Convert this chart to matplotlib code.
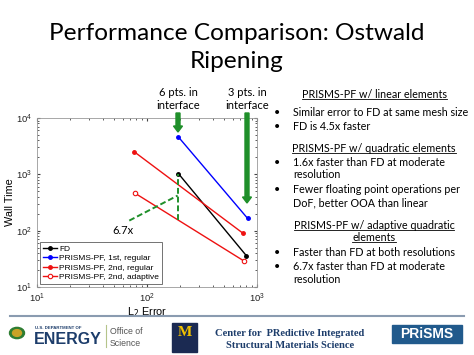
import matplotlib
matplotlib.use("Agg")
import matplotlib.pyplot as plt
from matplotlib.patches import Rectangle, Circle, FancyArrow
from matplotlib.lines import Line2D

W, H = 474, 355

# ---- data ----
series_names = ["FD", "PRISMS-PF, 1st, regular", "PRISMS-PF, 2nd, regular", "PRISMS-PF, 2nd, adaptive"]
fd_err = [193, 800]
fd_time = [1030, 36]
lin_err = [193, 822]
lin_time = [4600, 165]
quad_err = [76, 740]
quad_time = [2540, 91]
adapt_err = [77, 760]
adapt_time = [468, 29]
gap_x = [193, 193]
gap_y = [153, 1030]
pointer_x = [69, 190]
pointer_y = [151, 420]
speedup_label = "6.7x"

title_lines = ["Performance Comparison: Ostwald", "Ripening"]

fig = plt.figure(figsize=(W / 100, H / 100), dpi=100)
fig.patch.set_facecolor("white")


def fx(x):
    return x / W


def fy(y):
    return 1 - y / H


# ---- title ----
fig.text(fx(237), fy(33), title_lines[0], ha="center", va="center", fontsize=17.6, family="Lato")
fig.text(fx(237), fy(62), title_lines[1], ha="center", va="center", fontsize=17.6, family="Lato")

# ---- axes ----
ax = fig.add_axes([fx(37), fy(287), (257 - 37) / W, (287 - 118) / H])
green = "#1f8f2a"
ax.plot(fd_err, fd_time, "-o", color="black", ms=2.5, lw=1, label=series_names[0])
ax.plot(lin_err, lin_time, "-o", color="#0000ff", ms=2.5, lw=1, label=series_names[1])
ax.plot(quad_err, quad_time, "-o", color="#ee1111", ms=2.5, lw=1, label=series_names[2])
ax.plot(adapt_err, adapt_time, "-o", color="#ee1111", ms=3.2, lw=1, mfc="white", mew=0.8,
        label=series_names[3])
ax.plot(gap_x, gap_y, "--", color=green, lw=1.4, dashes=(3, 1.5))
ax.plot(pointer_x, pointer_y, "--", color=green, lw=1.4, dashes=(3, 1.5))
ax.text(60, 100, speedup_label, ha="center", va="center", fontsize=8, family="Lato")

ax.set_xscale("log")
ax.set_yscale("log")
ax.set_xlim(10, 1000)
ax.set_ylim(10, 10000)
for s in ax.spines.values():
    s.set_color("#999999")
    s.set_linewidth(0.6)
ax.tick_params(which="both", direction="in", labelsize=6.8, colors="#444444", labelcolor="#222222",
               top=True, right=True, length=2)
ax.tick_params(which="minor", length=1.2)
ax.set_ylabel("Wall Time", fontsize=7.8, labelpad=1, family="Liberation Sans")
ax.set_xlabel("L$_2$ Error", fontsize=7.8, labelpad=0, family="Liberation Sans")
for lab in ax.get_xticklabels() + ax.get_yticklabels():
    lab.set_family("Liberation Sans")
leg = ax.legend(loc="lower left", frameon=True, fancybox=False, handlelength=1.7,
                borderpad=0.35, labelspacing=0.2, handletextpad=0.3, borderaxespad=0.35,
                prop={"family": "Liberation Sans", "size": 6.0})
leg.get_frame().set_edgecolor("#333333")
leg.get_frame().set_linewidth(0.6)

# ---- interface arrows ----
for xc, label, ytip in [(178, "6 pts. in\ninterface", 132), (247, "3 pts. in\ninterface", 203)]:
    fig.text(fx(xc), fy(99), label, ha="center", va="center", fontsize=8, family="Lato",
             linespacing=1.25)
    fig.patches.append(FancyArrow(fx(xc), fy(113), 0, fy(ytip) - fy(113), width=3 / H,
                                  head_width=9 / W, head_length=6 / H, length_includes_head=True,
                                  color=green, transform=fig.transFigure, figure=fig))

# ---- right text ----
tf = "Lato"
fs = 7.75
heads = [(95, ["PRISMS-PF w/ linear elements"]),
         (148, ["PRISMS-PF w/ quadratic elements"]),
         (225, ["PRISMS-PF w/ adaptive quadratic", "elements"])]
bullets = [(112, ["Similar error to FD at same mesh size"]),
           (127, ["FD is 4.5x faster"]),
           (162, ["1.6x faster than FD at moderate", "resolution"]),
           (190, ["Fewer floating point operations per", "DoF, better OOA than linear"]),
           (252, ["Faster than FD at both resolutions"]),
           (267, ["6.7x faster than FD at moderate", "resolution"])]
head_texts = []
for y, lines in heads:
    for i, ln in enumerate(lines):
        t = fig.text(fx(374), fy(y + i * 12.5), ln, ha="center", va="center", fontsize=fs, family=tf)
        head_texts.append(t)
for y, lines in bullets:
    fig.text(fx(277), fy(y), "\u2022", ha="center", va="center", fontsize=fs, family=tf)
    for i, ln in enumerate(lines):
        fig.text(fx(293), fy(y + i * 12.5), ln, ha="left", va="center", fontsize=fs, family=tf)

fig.canvas.draw()
r = fig.canvas.get_renderer()
for t in head_texts:
    bb = t.get_window_extent(r)
    yy = bb.y0 + 1.0
    fig.add_artist(Line2D([bb.x0 / W, bb.x1 / W], [yy / H, yy / H], color="black", lw=0.6,
                          transform=fig.transFigure))

# ---- footer ----
fig.add_artist(Line2D([fx(10), fx(464)], [fy(316), fy(316)], color="#8a9bb0", lw=1.5,
                      transform=fig.transFigure))
# DOE logo
fig.patches.append(Circle((fx(17), fy(333)), 7.5 / W, color="#2e7d32", transform=fig.transFigure,
                          figure=fig))
fig.patches.append(Circle((fx(17), fy(333)), 4.5 / W, color="#c9a227", transform=fig.transFigure,
                          figure=fig))
fig.text(fx(35), fy(328), "U.S. DEPARTMENT OF", fontsize=3.2, weight="bold", color="#1d3d6b",
         ha="left", va="center", family="Liberation Sans")
fig.text(fx(34), fy(340), "ENERGY", fontsize=11.5, weight="bold", color="#1d3d6b",
         ha="left", va="center", family="Liberation Sans")
fig.add_artist(Line2D([fx(106), fx(106)], [fy(325), fy(347)], color="#b5c48a", lw=0.8,
                      transform=fig.transFigure))
fig.text(fx(110), fy(332), "Office of", fontsize=6.3, color="#555555", ha="left", va="center",
         family="Liberation Sans")
fig.text(fx(110), fy(343), "Science", fontsize=6.3, color="#555555", ha="left", va="center",
         family="Liberation Sans")
# Michigan
fig.patches.append(Rectangle((fx(172), fy(352)), 25 / W, 29 / H, color="#1b2a52",
                             transform=fig.transFigure, figure=fig))
fig.text(fx(184.5), fy(333), "M", fontsize=11, weight="bold", color="#f2c200", ha="center",
         va="center", family="Liberation Serif")
fig.text(fx(290), fy(333), "Center for  PRedictive Integrated", fontsize=7.6, weight="bold",
         color="#1d3d6b", ha="center", va="center", family="Liberation Serif")
fig.text(fx(290), fy(345), "Structural Materials Science", fontsize=7.6, weight="bold",
         color="#1d3d6b", ha="center", va="center", family="Liberation Serif")
# PRISMS
fig.patches.append(Rectangle((fx(392), fy(343)), 70 / W, 18 / H, color="#215a8c",
                             transform=fig.transFigure, figure=fig))
fig.text(fx(427), fy(334), "PRiSMS", fontsize=10, weight="bold", color="white", ha="center",
         va="center", family="Liberation Sans")

fig.savefig("out.png", dpi=100)
